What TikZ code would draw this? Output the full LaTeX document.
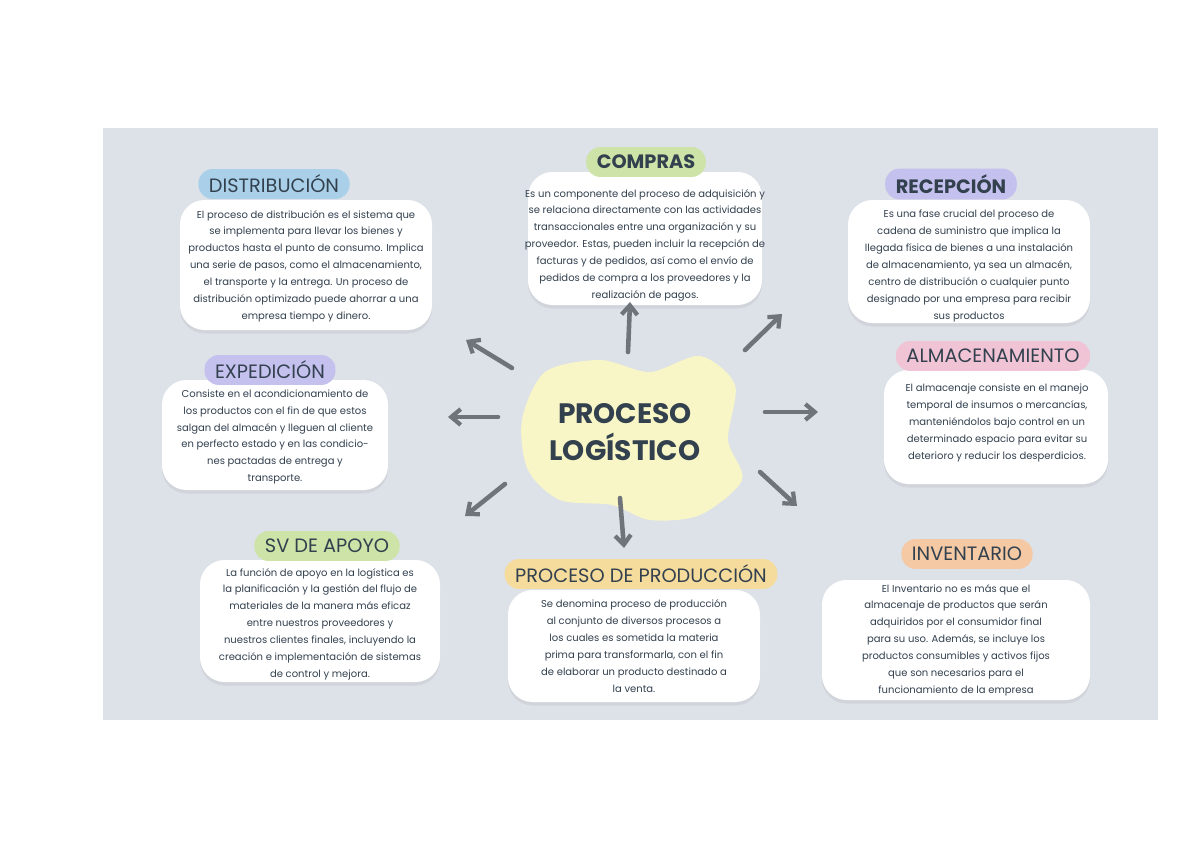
\documentclass[tikz,border=0pt]{standalone}
\usepackage{fontspec}
\setmainfont{Poppins}
\usetikzlibrary{arrows.meta,shadows}
\definecolor{bg}{HTML}{DDE1E8}
\definecolor{ink}{HTML}{33414F}
\definecolor{arr}{HTML}{6E747A}
\definecolor{cblue}{HTML}{A9D0E8}
\definecolor{cgreen}{HTML}{CDE3A8}
\definecolor{clav}{HTML}{C4C1EF}
\definecolor{cpink}{HTML}{F0C4D4}
\definecolor{cyel}{HTML}{F5DC9C}
\definecolor{corg}{HTML}{F4C9A4}
\definecolor{blob}{HTML}{F8F6C6}
\tikzset{
 x=0.02cm,y=-0.02cm,
 card/.style={fill=white,rounded corners=14pt,drop shadow={opacity=0.12,shadow xshift=0pt,shadow yshift=-2pt}},
 body/.style={text=ink,font=\fontsize{5.7}{9.6}\selectfont,align=center,inner sep=0pt},
 pill/.style={rounded corners=8pt,text=ink,font=\fontsize{11}{12}\selectfont,minimum height=17pt,inner xsep=6pt},
 conn/.style={draw=arr,line width=2.6pt,-{Straight Barb[angle=80:7pt,line width=2.4pt]},line cap=round}
}
\begin{document}
\begin{tikzpicture}
\useasboundingbox (0,0) rectangle (1200,849);
\fill[white] (0,0) rectangle (1200,849);
\fill[bg] (103,128) rectangle (1158,720);
% blob
\fill[blob] plot[smooth cycle] coordinates {(545,372) (600,360) (650,372) (700,356) (735,385) (728,440) (742,480) (700,515) (650,520) (612,505) (560,500) (528,470) (522,420)};
\node[text=ink,font=\bfseries\fontsize{16}{21}\selectfont,align=center] (center) at (625,432) {PROCESO\\LOGÍSTICO};
% cards
\fill[card] (180,200) rectangle (432,330);
\fill[card] (528,172) rectangle (762,305);
\fill[card] (848,200) rectangle (1090,323);
\fill[card] (884,370) rectangle (1108,484);
\fill[card] (162,380) rectangle (388,490);
\fill[card] (200,560) rectangle (440,682);
\fill[card] (508,590) rectangle (760,702);
\fill[card] (822,580) rectangle (1090,700);
% titles
\node[pill,fill=cblue] (t1) at (274,184) {DISTRIBUCIÓN};
\node[pill,fill=cgreen,font=\bfseries\fontsize{11}{12}\selectfont] (t2) at (646,162) {COMPRAS};
\node[pill,fill=clav,font=\bfseries\fontsize{11}{12}\selectfont] (t3) at (951,184) {RECEPCIÓN};
\node[pill,fill=cpink] (t4) at (993,356) {ALMACENAMIENTO};
\node[pill,fill=clav] (t5) at (270,370) {EXPEDICIÓN};
\node[pill,fill=cgreen] (t6) at (327,546) {SV DE APOYO};
\node[pill,fill=cyel] (t7) at (641,574) {PROCESO DE PRODUCCIÓN};
\node[pill,fill=corg] (t8) at (967,554) {INVENTARIO};
% bodies
\node[body] (b1) at (306,266) {El proceso de distribución es el sistema que\\se implementa para llevar los bienes y\\productos hasta el punto de consumo. Implica\\una serie de pasos, como el almacenamiento,\\el transporte y la entrega. Un proceso de\\distribución optimizado puede ahorrar a una\\empresa tiempo y dinero.};
\node[body] (b2) at (645,245) {Es un componente del proceso de adquisición y\\se relaciona directamente con las actividades\\transaccionales entre una organización y su\\proveedor. Estas, pueden incluir la recepción de\\facturas y de pedidos, así como el envío de\\pedidos de compra a los proveedores y la\\realización de pagos.};
\node[body] (b3) at (969,266) {Es una fase crucial del proceso de\\cadena de suministro que implica la\\llegada física de bienes a una instalación\\de almacenamiento, ya sea un almacén,\\centro de distribución o cualquier punto\\designado por una empresa para recibir\\sus productos};
\node[body] (b4) at (997,423) {El almacenaje consiste en el manejo\\temporal de insumos o mercancías,\\manteniéndolos bajo control en un\\determinado espacio para evitar su\\deterioro y reducir los desperdicios.};
\node[body] (b5) at (275,437) {Consiste en el acondicionamiento de\\los productos con el fin de que estos\\salgan del almacén y lleguen al cliente\\en perfecto estado y en las condicio-\\nes pactadas de entrega y\\transporte.};
\node[body] (b6) at (320,624) {La función de apoyo en la logística es\\la planificación y la gestión del flujo de\\materiales de la manera más eficaz\\entre nuestros proveedores y\\nuestros clientes finales, incluyendo la\\creación e implementación de sistemas\\de control y mejora.};
\node[body] (b7) at (634,646) {Se denomina proceso de producción\\al conjunto de diversos procesos a\\los cuales es sometida la materia\\prima para transformarla, con el fin\\de elaborar un producto destinado a\\la venta.};
\node[body] (b8) at (956,640) {El Inventario no es más que el\\almacenaje de productos que serán\\adquiridos por el consumidor final\\para su uso. Además, se incluye los\\productos consumibles y activos fijos\\que son necesarios para el\\funcionamiento de la empresa};
% arrows
\coordinate (s1) at (628,352); \coordinate (e1) at (630,302);
\coordinate (s2) at (745,350); \coordinate (e2) at (782,314);
\coordinate (s3) at (765,412); \coordinate (e3) at (818,412);
\coordinate (s4) at (760,472); \coordinate (e4) at (797,506);
\coordinate (s5) at (620,498); \coordinate (e5) at (624,548);
\coordinate (s6) at (505,484); \coordinate (e6) at (465,516);
\coordinate (s7) at (498,417); \coordinate (e7) at (448,417);
\coordinate (s8) at (512,368); \coordinate (e8) at (466,340);
\foreach \i in {1,...,8} {\draw[conn] (s\i) -- (e\i);}
\end{tikzpicture}
\end{document}
